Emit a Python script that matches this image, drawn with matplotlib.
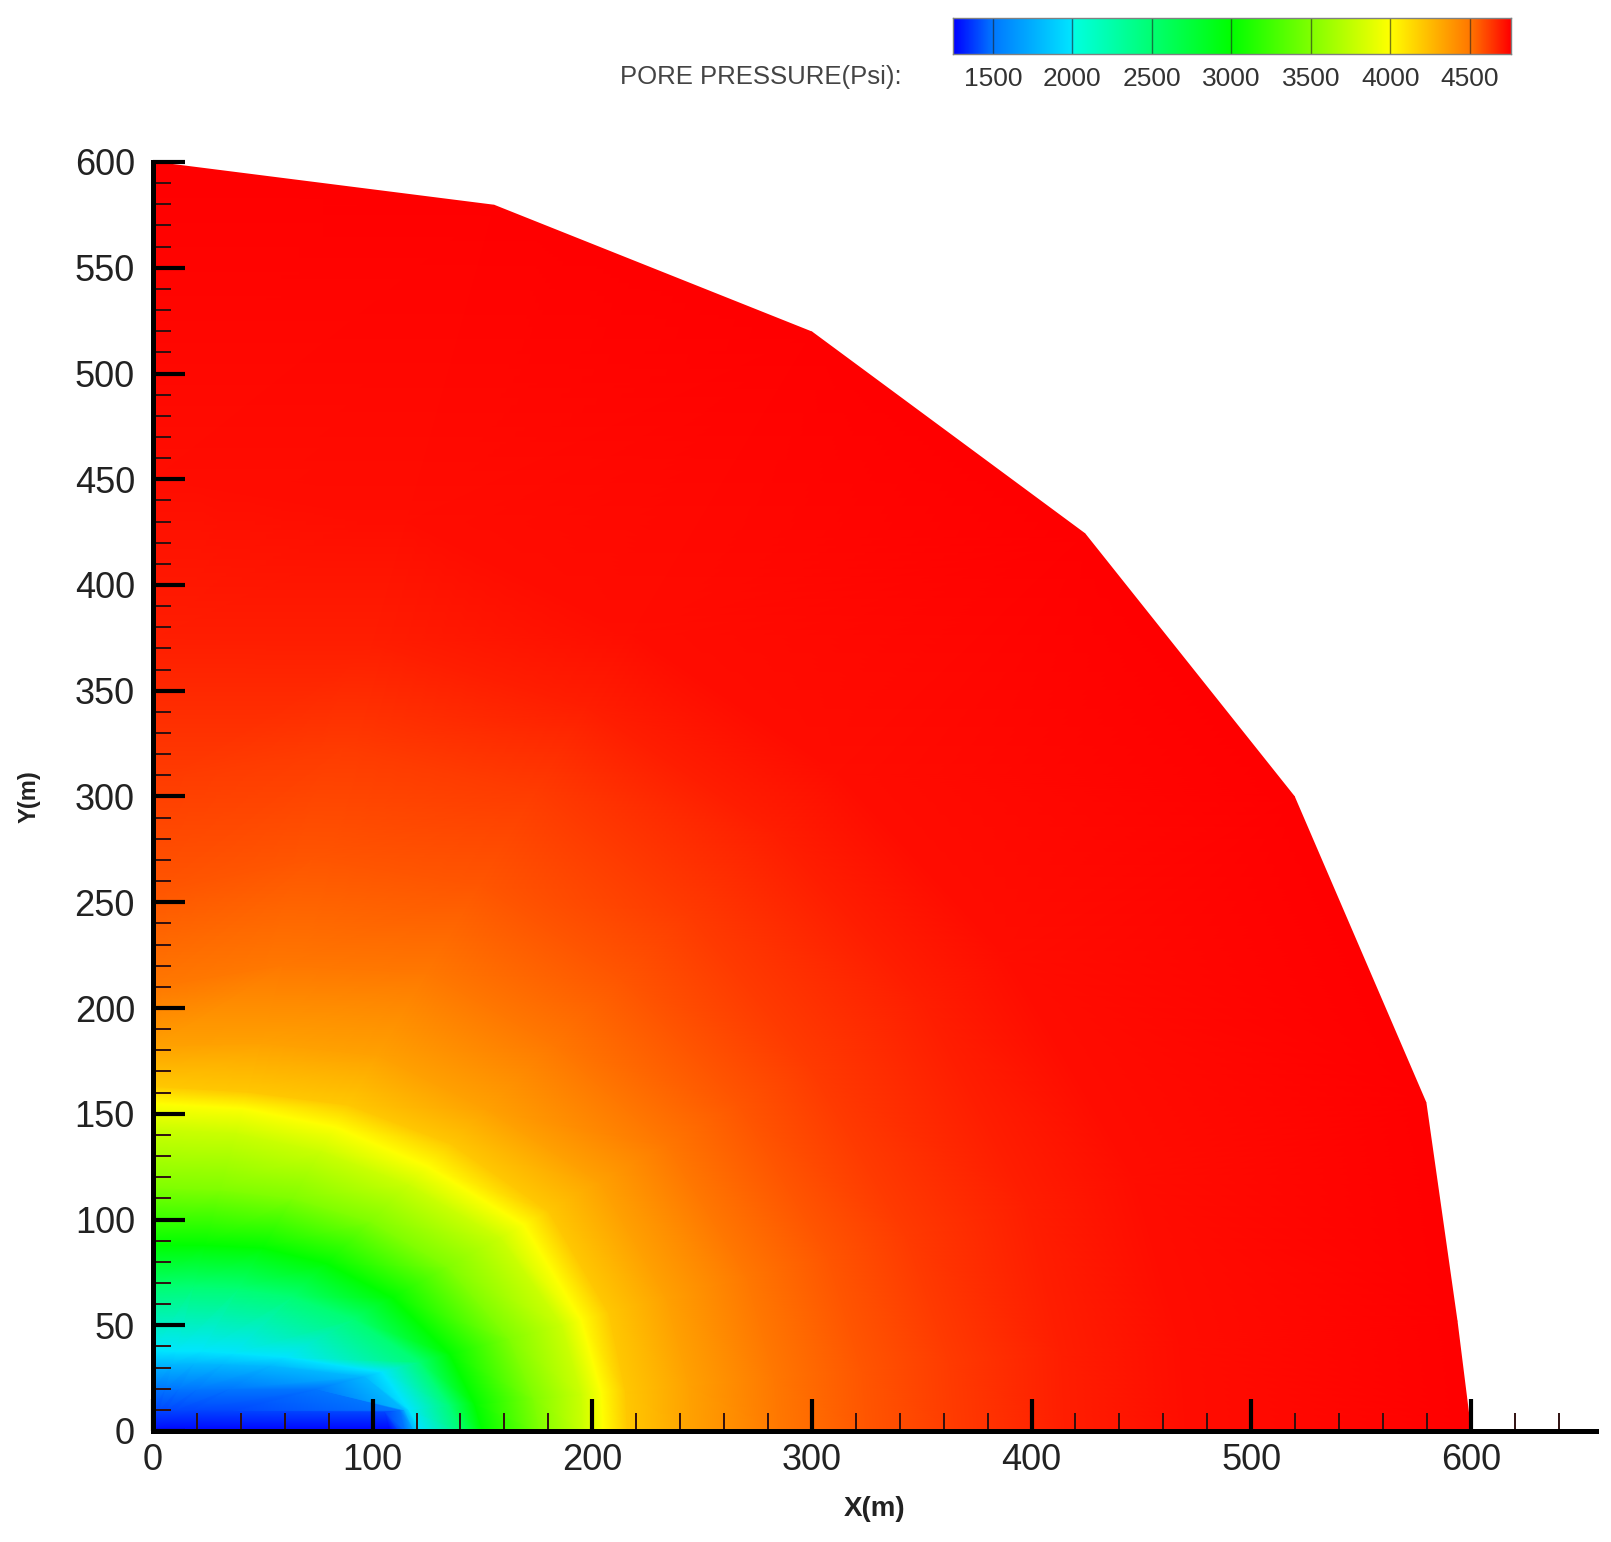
import numpy as np
import matplotlib
matplotlib.use("Agg")
import matplotlib.pyplot as plt
from matplotlib.colors import LinearSegmentedColormap
from matplotlib.tri import Triangulation

plt.rcParams["font.family"] = ["Liberation Sans", "DejaVu Sans"]

# colour bar
P_MIN = 1250
P_MAX = 4758
cbar_ticks = [1500, 2000, 2500, 3000, 3500, 4000, 4500]
stop_values = [1250, 1500, 2000, 2010, 3000, 4000, 4500, 4758]
stop_colors = ["#0000ff", "#0078ff", "#00e6ff", "#00ffe0", "#00ff00", "#ffff00", "#ff7800", "#ff0000"]

# mesh rays in degrees from the x axis
angles = [0, 5, 15, 30, 45, 60, 75, 90]

# pressure level of each ring and its distance from the well on each ray
levels = [1250, 1400, 1500, 1800, 2000, 2500, 3000, 3500, 3800, 4000, 4200, 4350, 4500, 4570, 4630, 4690, 4730, 4758]
r_1250 = [108, 0.01, 0.01, 0.01, 0.01, 0.01, 0.01, 0.01]
r_1400 = [112, 106, 38, 20, 14, 11.5, 10.4, 10]
r_1500 = [115, 113, 77, 40, 28, 23, 20.7, 20]
r_1800 = [119, 115, 100, 62, 45, 37, 33, 32]
r_2000 = [122, 117, 108, 70, 52, 43.5, 39, 38]
r_2500 = [140, 136, 126, 106, 90, 78, 71, 68]
r_3000 = [150, 147, 140, 126, 112, 100, 91, 88]
r_3500 = [176, 174, 168, 155, 140, 127, 118, 115]
r_3800 = [196, 196, 193, 183, 165, 153, 146, 143]
r_4000 = [205, 205, 202, 195, 177, 166, 158, 155]
r_4200 = [216, 216, 215, 208, 192, 178, 166, 163]
r_4350 = [245, 245, 242, 235, 215, 205, 190, 182]
r_4500 = [285, 284, 280, 270, 258, 250, 228, 210]
r_4570 = [325, 324, 318, 308, 302, 298, 280, 255]
r_4630 = [365, 364, 355, 345, 345, 350, 335, 310]
r_4690 = [415, 415, 412, 405, 400, 395, 385, 375]
r_4730 = [470, 469, 462, 448, 440, 435, 445, 450]
r_edge = [600, 596, 600, 600, 600, 600, 600, 600]
radii = [r_1250, r_1400, r_1500, r_1800, r_2000, r_2500, r_3000, r_3500, r_3800, r_4000,
         r_4200, r_4350, r_4500, r_4570, r_4630, r_4690, r_4730, r_edge]

# mesh from the rings
theta = np.radians(angles)
n_ang = len(angles)
n_ring = len(levels)
rr = np.array(radii, dtype=float)
xs = (rr * np.cos(theta)).ravel()
ys = (rr * np.sin(theta)).ravel()
vals = np.repeat(levels, n_ang)

triangles = []
for i in range(n_ring - 1):
    for j in range(n_ang - 1):
        a = i * n_ang + j
        b = a + 1
        c = a + n_ang
        d = c + 1
        if i == 0:
            # first ring keeps the low pressure along the x axis
            triangles.append([a, b, d])
            triangles.append([a, d, c])
        else:
            triangles.append([a, b, c])
            triangles.append([b, d, c])
tri = Triangulation(xs, ys, triangles)

norm_stops = [(v - P_MIN) / (P_MAX - P_MIN) for v in stop_values]
cmap = LinearSegmentedColormap.from_list("tecplot", list(zip(norm_stops, stop_colors)), N=1024)

W, H = 1611, 1542
fig = plt.figure(figsize=(W / 100, H / 100), dpi=100)

# main plot, placed in pixels
x0, x1, y0, y1 = 153, 1596, 1431, 162
ax = fig.add_axes([x0 / W, 1 - y0 / H, (x1 - x0) / W, (y0 - y1) / H])
ax.tripcolor(tri, vals, shading="gouraud", cmap=cmap, vmin=P_MIN, vmax=P_MAX, rasterized=True)
ax.set_xlim(0, 657)
ax.set_ylim(0, 600)

for s in ["top", "right"]:
    ax.spines[s].set_visible(False)
for s in ["left", "bottom"]:
    ax.spines[s].set_linewidth(3.6)
    ax.spines[s].set_zorder(5)
    ax.spines[s].set_capstyle("projecting")

ax.set_xticks(np.arange(0, 601, 100))
ax.set_xticks(np.arange(0, 641, 20), minor=True)
ax.set_yticks(np.arange(0, 601, 50))
ax.set_yticks(np.arange(0, 601, 10), minor=True)
ax.tick_params(which="major", direction="in", length=23, width=3, labelsize=26, colors="black", zorder=6)
ax.tick_params(which="minor", direction="in", length=13, width=1.4, color="#301010")
ax.tick_params(axis="x", which="major", pad=9, labelcolor="#222222")
ax.tick_params(axis="y", which="major", pad=13, labelcolor="#222222")
ax.set_xlim(0, 657)
ax.set_ylim(0, 600)
for t in ax.get_xticklabels() + ax.get_yticklabels():
    t.set_clip_on(False)
for line in ax.yaxis.get_ticklines() + ax.xaxis.get_ticklines():
    line.set_clip_on(False)

fig.text(875 / W, 1 - 1509 / H, "X(m)", fontsize=20, fontweight="bold", ha="center", va="center", color="#222222")
fig.text(29 / W, 1 - 797 / H, "Y(m)", fontsize=17, fontweight="bold", rotation=90, ha="center", va="center", color="#222222")

# colour bar along the top
cx0, cx1, cy0, cy1 = 953, 1511, 54, 18
cax = fig.add_axes([cx0 / W, 1 - cy0 / H, (cx1 - cx0) / W, (cy0 - cy1) / H])
ramp = np.linspace(P_MIN, P_MAX, 800).reshape(1, -1)
cax.imshow(ramp, aspect="auto", cmap=cmap, vmin=P_MIN, vmax=P_MAX, extent=[P_MIN, P_MAX, 0, 1])
cax.set_yticks([])
cax.set_xticks(cbar_ticks)
cax.tick_params(axis="x", length=0, pad=9, labelsize=19, labelcolor="#333333")
for v in cbar_ticks:
    cax.axvline(v, color="#202020", lw=1, alpha=0.6)
for s in cax.spines.values():
    s.set_color("#808080")
    s.set_linewidth(1)
fig.text(620 / W, 1 - 77 / H, "PORE PRESSURE(Psi):", fontsize=18.5, ha="left", va="center", color="#444444")

fig.savefig("out.png", dpi=100)
